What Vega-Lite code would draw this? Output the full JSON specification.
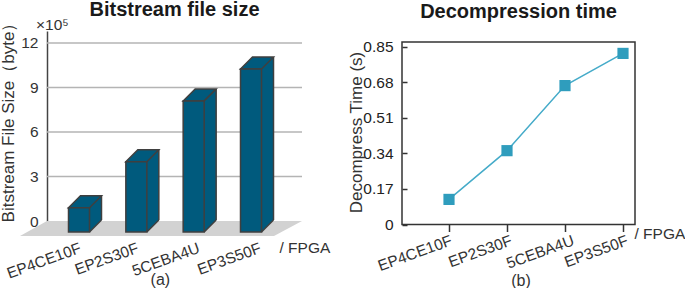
{
"$schema":"https://vega.github.io/schema/vega-lite/v6.json",
"padding":{"left":-2,"top":0,"right":0,"bottom":0},
"background":"white",
"spacing":100,
"bounds":"flush",
"config":{"font":"Liberation Sans","title":{"font":"Liberation Sans","fontSize":20,"fontWeight":"bold","color":"#1a1a1a"}},
"hconcat":[
{
"width":255,"height":190,
"title":{"text":"Bitstream file size","offset":-6},
"view":{"stroke":null},
"data":{"values":[{"fpga":"EP4CE10F","size":1.7},{"fpga":"EP2S30F","size":4.8},{"fpga":"5CEBA4U","size":8.9},{"fpga":"EP3S50F","size":11.05}]},
"encoding":{
"x":{"field":"fpga","type":"nominal","sort":null,"scale":{"type":"point","padding":0,"domain":["EP4CE10F","EP2S30F","5CEBA4U","EP3S50F"],"range":[32,204]},
"axis":{"domain":false,"ticks":false,"grid":false,"labelAngle":-20,"labelAlign":"right","labelBaseline":"middle","labelPadding":26,"labelFontSize":15.5,"labelColor":"#333","labelOffset":{"condition":[{"test":"datum.value==='5CEBA4U'","value":5},{"test":"datum.value==='EP3S50F'","value":9}],"value":1},"title":"/ FPGA","titleFontSize":15.5,"titleFontWeight":"normal","titleColor":"#333","titleX":232,"titleY":19,"titleAlign":"left","titleAnchor":"start"}},
"y":{"field":"size","type":"quantitative","scale":{"domain":[0,12.8],"nice":false},
"axis":{"values":[0,3,6,9,12],"grid":false,"domainColor":"#444","domainWidth":1.5,"ticks":false,"labelFontSize":15.5,"labelColor":"#333","labelPadding":9,"title":"Bitstream File Size（byte）","titleFontSize":17,"titleFontWeight":"normal","titleColor":"#333","titleY":87,"titleX":-30}}
},
"layer":[
{"data":{"values":[{"tick":3},{"tick":6},{"tick":9},{"tick":12}]},"mark":{"type":"rule","stroke":"#b4b4b4","strokeWidth":1.5},"encoding":{"x":null,"y":{"field":"tick","type":"quantitative"}}},
{"transform":[{"filter":"datum.fpga==='EP4CE10F'"}],"mark":{"type":"point","filled":true,"fill":"#d2d2d2","opacity":1,"size":4,"strokeWidth":0,"clip":false,"shape":"M-32 0 L223 0 L195 15 L-59 15 Z"},"encoding":{"y":{"datum":0}}},
{"mark":{"type":"bar","size":21,"xOffset":12,"x2Offset":12,"yOffset":0,"y2Offset":-1,"fill":"#005a7d"},"encoding":{"y2":{"datum":0}}},
{"mark":{"type":"rule","xOffset":22.5,"y2Offset":-1,"stroke":"#3f3f3f","strokeWidth":1.5},"encoding":{"y2":{"datum":0}}},
{"mark":{"type":"point","filled":true,"fill":"#005a7d","opacity":1,"size":4,"strokeWidth":0,"shape":"M10.5 11 L22.5 -1 L10.5 -1 Z"},"encoding":{"y":{"datum":0}}},
{"mark":{"type":"point","filled":false,"stroke":"#3f3f3f","opacity":1,"size":4,"strokeWidth":1.5,"shape":"M10.5 11 L22.5 -1"},"encoding":{"y":{"datum":0}}},
{"mark":{"type":"point","filled":true,"fill":"#005a7d","stroke":"#3f3f3f","opacity":1,"size":4,"strokeWidth":1.5,"shape":"M-10.5 12 L10.5 12 L22.5 0 L1.5 0 Z"}},
{"mark":{"type":"bar","size":21,"yOffset":12,"y2Offset":11,"fill":"#005a7d","stroke":"#3f3f3f","strokeWidth":1.5},"encoding":{"y2":{"datum":0}}},
{"transform":[{"filter":"datum.fpga==='EP4CE10F'"}],"mark":{"type":"text","text":"×10⁵","font":"Liberation Sans","fontSize":15.5,"fill":"#333","align":"left","dx":-43,"dy":-6},"encoding":{"y":{"datum":12.8}}},
{"transform":[{"filter":"datum.fpga==='EP2S30F'"}],"mark":{"type":"text","text":"(a)","font":"Liberation Sans","fontSize":16,"fill":"#333","dx":24,"dy":59},"encoding":{"y":{"datum":0}}}
]
},
{
"width":233,"height":193.5,
"title":{"text":"Decompression time","offset":9},
"view":{"stroke":null},
"data":{"values":[{"fpga":"EP4CE10F","time":0.12},{"fpga":"EP2S30F","time":0.353},{"fpga":"5CEBA4U","time":0.664},{"fpga":"EP3S50F","time":0.818}]},
"encoding":{
"x":{"field":"fpga","type":"nominal","sort":null,"scale":{"type":"point","padding":0,"domain":["EP4CE10F","EP2S30F","5CEBA4U","EP3S50F"],"range":[47,221]},
"axis":{"domain":false,"tickColor":"#333","tickWidth":1.5,"tickSize":7,"grid":false,"labelAngle":-20,"labelAlign":"right","labelBaseline":"middle","labelPadding":8,"labelFontSize":15.5,"labelColor":"#333","labelOffset":{"condition":[{"test":"datum.value==='EP2S30F'","value":4},{"test":"datum.value==='5CEBA4U'","value":8},{"test":"datum.value==='EP3S50F'","value":4}],"value":2},"title":"/ FPGA","titleFontSize":15.5,"titleFontWeight":"normal","titleColor":"#333","titleX":232,"titleY":2,"titleAlign":"left","titleAnchor":"start"}},
"y":{"field":"time","type":"quantitative","scale":{"domain":[0,0.8725],"nice":false,"range":[193.5,11]},
"axis":{"values":[0,0.17,0.34,0.51,0.68,0.85],"format":".2~f","grid":false,"domain":false,"ticks":true,"tickColor":"#333","tickWidth":1.5,"tickSize":-5,"labelFontSize":15.5,"labelColor":"#222","labelPadding":14,"title":"Decompress Time (s)","titleFontSize":17,"titleFontWeight":"normal","titleColor":"#333","titleX":-37,"titleY":101}}
},
"layer":[
{"transform":[{"filter":"datum.fpga==='EP4CE10F'"}],"mark":{"type":"rect","fill":"transparent","stroke":"#333","strokeWidth":1.5},"encoding":{"x":null,"y":{"datum":0.8725},"y2":{"datum":0}}},
{"mark":{"type":"line","stroke":"#45abc9","strokeWidth":1.5}},
{"mark":{"type":"point","filled":true,"shape":"square","size":125,"fill":"#2f9dbd","opacity":1,"strokeWidth":0}},
{"transform":[{"filter":"datum.fpga==='EP2S30F'"}],"mark":{"type":"text","text":"(b)","font":"Liberation Sans","fontSize":16,"fill":"#333","dx":14,"dy":56},"encoding":{"y":{"datum":0}}}
]
}
]
}
